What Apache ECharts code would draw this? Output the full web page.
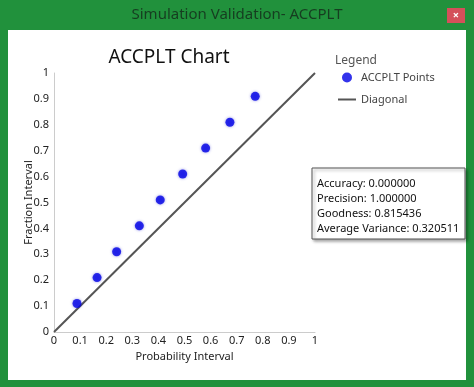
<!DOCTYPE html>
<html>
<head>
<meta charset="utf-8">
<script src="https://cdn.jsdelivr.net/npm/echarts@6/dist/echarts.min.js"></script>
<style>
html,body{margin:0;padding:0;background:#21913c;}
#c{width:474px;height:387px;}
</style>
</head>
<body>
<div id="c"></div>
<script>
var windowTitle = 'Simulation Validation- ACCPLT';
var chartTitle = 'ACCPLT Chart';
var xName = 'Probability Interval';
var yName = 'Fraction Interval';
var seriesNames = ['ACCPLT Points', 'Diagonal'];
var probability = [0.088, 0.165, 0.240, 0.327, 0.407, 0.493, 0.581, 0.674, 0.771];
var fraction = [0.11, 0.21, 0.31, 0.41, 0.51, 0.61, 0.71, 0.81, 0.91];
var diagonal = [[0, 0], [1, 1]];
var stats = ['Accuracy: 0.000000', 'Precision: 1.000000', 'Goodness: 0.815436', 'Average Variance: 0.320511'];

var FONT = '"Noto Sans", "Open Sans", sans-serif';
var points = probability.map(function (p, i) { return [p, fraction[i]]; });

var chart = echarts.init(document.getElementById('c'), null, {renderer: 'canvas'});
chart.setOption({
  backgroundColor: '#21913c',
  animation: false,
  textStyle: {fontFamily: FONT},
  graphic: [
    {type: 'rect', z: -10, shape: {x: 8, y: 30, width: 458, height: 350}, style: {fill: '#ffffff'}},
    {type: 'text', style: {x: 237, y: 15, text: windowTitle, fill: '#163d20', font: '15px ' + FONT, textAlign: 'center', textVerticalAlign: 'middle'}},
    {type: 'rect', shape: {x: 447, y: 8, width: 18, height: 15}, style: {fill: '#d4505a'}},
    {type: 'text', style: {x: 456, y: 15.5, text: '×', fill: '#ffffff', font: 'bold 11px ' + FONT, textAlign: 'center', textVerticalAlign: 'middle'}},
    {type: 'text', style: {x: 335, y: 61, text: 'Legend', fill: '#555555', font: '12px ' + FONT, textVerticalAlign: 'middle'}},
    {type: 'rect', z: 20, shape: {x: 312, y: 168, width: 153, height: 71}, style: {fill: '#ffffff', stroke: '#555555', lineWidth: 1, shadowBlur: 3, shadowOffsetX: 2, shadowOffsetY: 2, shadowColor: 'rgba(0,0,0,0.35)'}},
    {type: 'text', z: 21, style: {x: 317, y: 176, text: stats.join('\n'), fill: '#111111', font: '11px ' + FONT, lineHeight: 15, textVerticalAlign: 'top'}}
  ],
  title: {
    text: chartTitle, left: 169, top: 48, padding: 0, textAlign: 'center',
    textStyle: {fontSize: 19, fontWeight: 'normal', color: '#111111', fontFamily: FONT}
  },
  legend: {
    orient: 'vertical', left: 338, top: 72, padding: 0, itemWidth: 18, itemHeight: 10, itemGap: 11,
    textStyle: {fontSize: 11, color: '#444444', fontFamily: FONT},
    data: [
      {name: seriesNames[0], icon: 'circle', itemStyle: {color: '#0000e6'}},
      {name: seriesNames[1], icon: 'path://M0,0 L18,0 L18,2 L0,2 Z', itemStyle: {color: '#555555'}}
    ]
  },
  grid: {left: 54, right: 159, top: 73, bottom: 55, containLabel: false},
  xAxis: {
    type: 'value', min: 0, max: 1, interval: 0.1,
    name: xName, nameLocation: 'middle', nameGap: 19, nameMoveOverlap: false,
    nameTextStyle: {fontSize: 11, color: '#222222', fontFamily: FONT},
    axisLine: {show: true, lineStyle: {color: '#cccccc', width: 1}},
    axisTick: {show: false},
    splitLine: {show: false},
    axisLabel: {fontSize: 11, color: '#222222', margin: 3, fontFamily: FONT}
  },
  yAxis: {
    type: 'value', min: 0, max: 1, interval: 0.1,
    name: yName, nameLocation: 'middle', nameGap: 19.5, nameMoveOverlap: false,
    nameTextStyle: {fontSize: 11, color: '#222222', fontFamily: FONT},
    axisLine: {show: true, lineStyle: {color: '#cccccc', width: 1}},
    axisTick: {show: false},
    splitLine: {show: false},
    axisLabel: {fontSize: 11, color: '#222222', margin: 5, fontFamily: FONT}
  },
  series: [
    {
      name: seriesNames[0], type: 'scatter', data: points, symbolSize: 9, z: 5,
      itemStyle: {color: '#0000e6', shadowBlur: 3, shadowColor: 'rgba(0,0,200,0.5)'}
    },
    {
      name: seriesNames[1], type: 'line', data: diagonal, symbol: 'none', z: 3,
      lineStyle: {color: '#555555', width: 2}, itemStyle: {color: '#555555'}
    }
  ]
});
</script>
</body>
</html>
